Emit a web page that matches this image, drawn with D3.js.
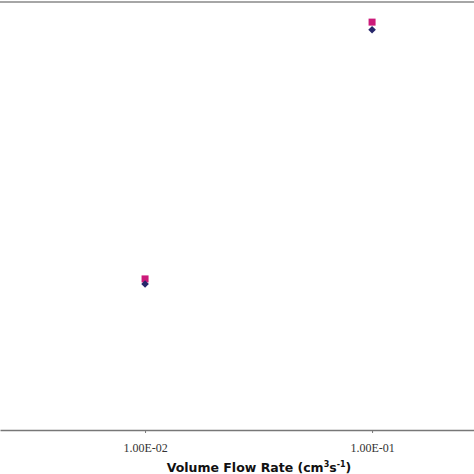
<!DOCTYPE html>
<html><head><meta charset="utf-8">
<script src="https://cdn.jsdelivr.net/npm/d3@7"></script>
<style>body{margin:0;background:#fff}</style>
</head><body>
<svg id="chart" width="474" height="474"></svg>
<script>
var flowRates = [0.01, 0.1];
var seriesSquare = [35.3, 95.3];
var seriesDiamond = [34.1, 93.5];
var tickValues = [0.01, 0.1];
var tickLabels = ["1.00E-02", "1.00E-01"];

var svg = d3.select("#chart");

var x = d3.scaleLog()
  .domain([Math.pow(10, -2.639), Math.pow(10, -0.551)])
  .range([0, 474]);
var y = d3.scaleLinear().domain([0, 100]).range([430, 2]);

// top border
svg.append("line")
  .attr("x1", 0).attr("x2", 474).attr("y1", 2).attr("y2", 2)
  .attr("stroke", "#888").attr("stroke-width", 1.5);

var xAxis = d3.axisBottom(x)
  .tickValues(tickValues)
  .tickSize(3)
  .tickSizeOuter(0)
  .tickFormat(function(d, i){ return tickLabels[i]; });

var g = svg.append("g").attr("transform", "translate(0,430)").call(xAxis);
g.select(".domain").attr("stroke", "#777").attr("stroke-width", 1.5);
g.selectAll(".tick line").attr("stroke", "#777");
g.selectAll(".tick text")
  .attr("dy", "0")
  .attr("y", 22)
  .style("font-family", "Liberation Serif, Times New Roman, serif")
  .style("font-size", "12px")
  .attr("fill", "#333");

var title = svg.append("text")
  .attr("x", 259).attr("y", 472)
  .attr("text-anchor", "middle")
  .style("font-family", "DejaVu Sans, Verdana, sans-serif")
  .style("font-weight", "bold")
  .style("font-size", "12.5px")
  .attr("fill", "#111");
title.append("tspan").text("Volume Flow Rate (cm");
title.append("tspan").attr("dy", -5).style("font-size", "8px").text("3");
title.append("tspan").attr("dy", 5).text("s");
title.append("tspan").attr("dy", -5).style("font-size", "8px").text("-1");
title.append("tspan").attr("dy", 5).text(")");

svg.selectAll(".sq").data(flowRates).enter().append("rect")
  .attr("class", "sq")
  .attr("x", function(d){ return x(d) - 3.5; })
  .attr("y", function(d, i){ return y(seriesSquare[i]) - 3.5; })
  .attr("width", 7).attr("height", 7)
  .attr("fill", "#cc1a7a");

svg.selectAll(".dm").data(flowRates).enter().append("path")
  .attr("class", "dm")
  .attr("d", "M0,-3.8L3.8,0L0,3.8L-3.8,0Z")
  .attr("transform", function(d, i){ return "translate(" + x(d) + "," + y(seriesDiamond[i]) + ")"; })
  .attr("fill", "#27276b");
</script>
</body></html>
